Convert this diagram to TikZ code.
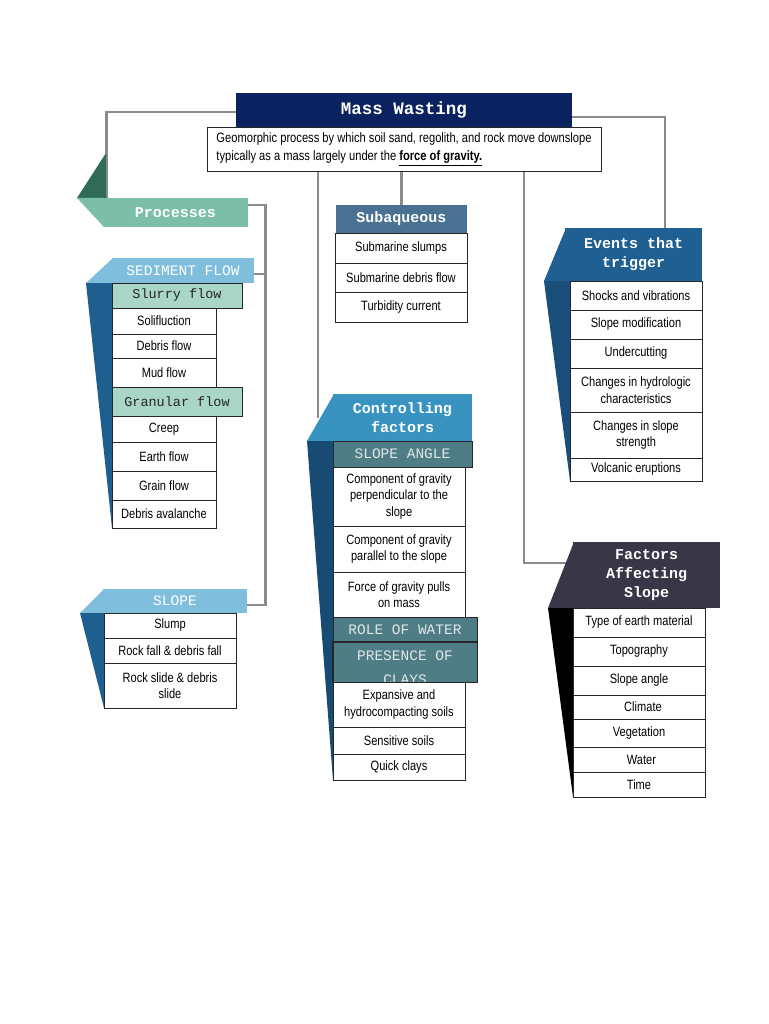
\documentclass[tikz,border=0pt]{standalone}
\usepackage{fontspec}
\setmainfont{Liberation Sans}
\newfontfamily\narrowfont[FakeStretch=0.82]{Liberation Sans}
\newfontfamily\monofont{Liberation Mono}
\definecolor{navyc}{HTML}{0B2260}
\definecolor{wire}{HTML}{8C8C8C}
\definecolor{procc}{HTML}{7BBFA8}
\definecolor{procdark}{HTML}{2F6B58}
\definecolor{lightblue}{HTML}{7FBFDD}
\definecolor{tailblue}{HTML}{1F5F8F}
\definecolor{mintc}{HTML}{A9D6C6}
\definecolor{subc}{HTML}{4A7191}
\definecolor{ctrlc}{HTML}{3893C0}
\definecolor{ctrltail}{HTML}{184B74}
\definecolor{tealc}{HTML}{4F7D85}
\definecolor{tealtext}{HTML}{E0E7E9}
\definecolor{eventc}{HTML}{1F5F92}
\definecolor{eventtail}{HTML}{1A4E7B}
\definecolor{facc}{HTML}{393747}
\pgfdeclarelayer{paper}
\pgfdeclarelayer{wires}
\pgfsetlayers{paper,wires,main}
\tikzset{
  conn/.style={draw=wire, line width=2.8pt},
  cell/.style={rectangle, draw=black!85, line width=0.8pt, fill=white, inner sep=0pt,
    align=center, text=black, font=\narrowfont\fontsize{13.5}{16.5}\selectfont},
  mint/.style={cell, fill=mintc, text=black!85, font=\monofont\fontsize{13.5}{16}\selectfont},
  teal/.style={cell, fill=tealc, text=tealtext, font=\monofont\fontsize{14.5}{21}\selectfont},
  hdr/.style={rectangle, inner sep=0pt, align=center, text=white,
    font=\monofont\bfseries\fontsize{15}{19}\selectfont},
  hdrlight/.style={hdr, font=\monofont\fontsize{14.5}{18}\selectfont},
}
% #1 style, #2 name, #3 x1, #4 y1, #5 x2, #6 y2, #7 text
\newcommand\cellat[7][cell]{%
  \node[#1, minimum width={#5pt-#3pt}, minimum height={#6pt-#4pt}] (#2)
    at ({(#3+#5)/2},{(#4+#6)/2}) {#7};}
\begin{document}
\begin{tikzpicture}[x=1pt,y=-1pt]
\useasboundingbox (0,0) rectangle (768,1024);
\begin{pgfonlayer}{paper}
  \fill[white] (0,0) rectangle (768,1024);
\end{pgfonlayer}

% ---------- title ----------
\node[hdr, fill=navyc, minimum width=336pt, minimum height=34pt,
  font=\monofont\bfseries\fontsize{17.5}{20}\selectfont] (title) at (404,110) {Mass Wasting};
\node[cell, minimum width=394pt, minimum height=44pt, align=left,
  font=\narrowfont\fontsize{13.6}{18}\selectfont] (desc) at (404,149)
  {Geomorphic process by which soil sand, regolith, and rock move downslope\\
   typically as a mass largely under the \textbf{\underline{force of gravity.}}};

% ---------- Processes ----------
\fill[procdark] (106,153) -- (106,198) -- (77,198) -- cycle;
\fill[procc] (77,198) -- (104,198) -- (104,227) -- cycle;
\node[hdr, fill=procc, minimum width=145pt, minimum height=29pt] (proc) at (175.5,212.5) {Processes};

% ---------- Sediment flow ----------
\fill[lightblue] (113,258) -- (86,283) -- (113,283) -- cycle;
\fill[tailblue] (86,283) -- (112,283) -- (112,528) -- cycle;
\node[hdrlight, fill=lightblue, minimum width=142pt, minimum height=25pt] (sed) at (183,270.5) {SEDIMENT FLOW};
\cellat[mint]{slurry}{112}{283}{242}{308}{Slurry flow}
\cellat{solif}{112}{308}{216}{334}{Solifluction}
\cellat{debris}{112}{334}{216}{358}{Debris flow}
\cellat{mud}{112}{358}{216}{387}{Mud flow}
\cellat[mint]{granular}{112}{387}{242}{416}{Granular flow}
\cellat{creep}{112}{416}{216}{442}{Creep}
\cellat{earth}{112}{442}{216}{471}{Earth flow}
\cellat{grain}{112}{471}{216}{500}{Grain flow}
\cellat{aval}{112}{500}{216}{528}{Debris avalanche}

% ---------- Slope ----------
\fill[lightblue] (104,589) -- (80,613) -- (104,613) -- cycle;
\fill[tailblue] (80,613) -- (104,613) -- (104,708) -- cycle;
\node[hdrlight, fill=lightblue, minimum width=144pt, minimum height=24pt] (slopeh) at (175,601) {SLOPE};
\cellat{slump}{104}{613}{236}{638}{Slump}
\cellat{rockfall}{104}{638}{236}{663}{Rock fall \& debris fall}
\cellat{rockslide}{104}{663}{236}{708}{Rock slide \& debris\\slide}

% ---------- Subaqueous ----------
\node[hdr, fill=subc, minimum width=131pt, minimum height=28pt] (sub) at (401.5,219) {Subaqueous};
\cellat{subslump}{335}{233}{467}{263}{Submarine slumps}
\cellat{subdebris}{335}{263}{467}{292}{Submarine debris flow}
\cellat{turb}{335}{292}{467}{322}{Turbidity current}

% ---------- Controlling factors ----------
\fill[ctrlc] (334,394) -- (307,441) -- (334,441) -- cycle;
\fill[ctrltail] (307,441) -- (333,441) -- (333,780) -- cycle;
\node[hdr, fill=ctrlc, minimum width=139pt, minimum height=47pt] (ctrl) at (402.5,417.5) {Controlling\\factors};
\cellat[teal]{angle}{333}{441}{472}{467}{SLOPE ANGLE}
\cellat{perp}{333}{467}{465}{526}{Component of gravity\\perpendicular to the\\slope}
\cellat{para}{333}{526}{465}{572}{Component of gravity\\parallel to the slope}
\cellat{pull}{333}{572}{465}{617}{Force of gravity pulls\\on mass}
\cellat[teal]{water}{333}{617}{477}{642}{ROLE OF WATER}
\cellat[teal]{clays}{333}{642}{477}{682}{}
\begin{scope}
  \clip (clays.south west) rectangle (clays.north east);
  \node[teal, draw=none, fill=none, font=\monofont\fontsize{14.5}{24}\selectfont]
    (clayslabel) at ([yshift=-6pt]clays.center) {PRESENCE OF\\CLAYS};
\end{scope}
\draw[black!85, line width=0.8pt] (clays.south west) rectangle (clays.north east);
\cellat{expans}{333}{682}{465}{727}{Expansive and\\hydrocompacting soils}
\cellat{sens}{333}{727}{465}{754}{Sensitive soils}
\cellat{quick}{333}{754}{465}{780}{Quick clays}

% ---------- Events that trigger ----------
\fill[eventc] (566,228) -- (544,281) -- (566,281) -- cycle;
\fill[eventtail] (544,281) -- (570,281) -- (570,481) -- cycle;
\node[hdr, fill=eventc, minimum width=137pt, minimum height=53pt] (events) at (633.5,254.5) {Events that\\trigger};
\cellat{shocks}{570}{281}{702}{310}{Shocks and vibrations}
\cellat{slopemod}{570}{310}{702}{339}{Slope modification}
\cellat{under}{570}{339}{702}{368}{Undercutting}
\cellat{hydro}{570}{368}{702}{412}{Changes in hydrologic\\characteristics}
\cellat{strength}{570}{412}{702}{458}{Changes in slope\\strength}
\cellat{volc}{570}{458}{702}{481}{Volcanic eruptions}

% ---------- Factors affecting slope ----------
\fill[facc] (574,542) -- (548,608) -- (574,608) -- cycle;
\fill[black] (548,608) -- (573,608) -- (573,797) -- cycle;
\node[hdr, fill=facc, minimum width=147pt, minimum height=66pt] (fac) at (646.5,575) {Factors\\Affecting\\Slope};
\cellat{material}{573}{608}{705}{637}{Type of earth material}
\cellat{topo}{573}{637}{705}{666}{Topography}
\cellat{slang}{573}{666}{705}{695}{Slope angle}
\cellat{climate}{573}{695}{705}{719}{\hspace*{8pt}Climate}
\cellat{veg}{573}{719}{705}{747}{Vegetation}
\cellat{wat}{573}{747}{705}{772}{\hspace*{5pt}Water}
\cellat{time}{573}{772}{705}{797}{Time}

% ---------- connectors ----------
\begin{pgfonlayer}{wires}
  \draw[conn] ([yshift=-2pt]title.west) -| ([xshift=4pt]proc.north west);
  \draw[conn] ([yshift=-7pt]title.east) -| ([xshift=31.5pt]events.north);
  \draw[conn] ([xshift=-86pt]desc.south) -- ([xshift=-84.5pt]ctrl.center);
  \draw[conn] (desc.south -| sub.north) -- (sub.north);
  \draw[conn] ([xshift=120pt]desc.south) |- ([yshift=12pt]fac.west);
  \draw[conn] ([yshift=7.5pt]proc.east) -| ([xshift=18pt,yshift=-4pt]slopeh.east) -- ([yshift=-4pt]slopeh.east);
  \draw[conn] ([yshift=-3.5pt]sed.east) -- ++(11,0);
\end{pgfonlayer}
\end{tikzpicture}
\end{document}
